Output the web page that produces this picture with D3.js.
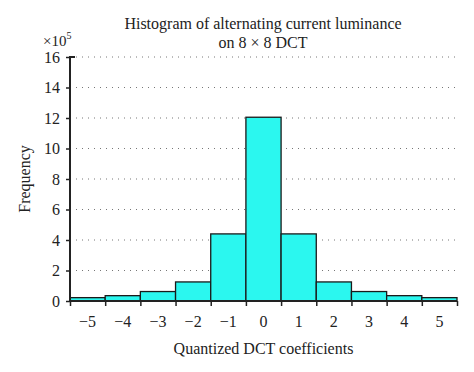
<!DOCTYPE html>
<html>
<head>
<meta charset="utf-8">
<script src="https://cdn.jsdelivr.net/npm/d3@7"></script>
<style>
	body { margin: 0; background: #fff; }
	svg text { font-family: "Liberation Serif", "DejaVu Serif", serif; fill: #222; }
</style>
</head>
<body>
<svg id="chart" width="474" height="372"></svg>
<script>
// histogram of quantized DCT coefficients (x 10^5)
var coefficients = [-5, -4, -3, -2, -1, 0, 1, 2, 3, 4, 5];
var frequency = [0.22, 0.35, 0.62, 1.25, 4.4, 12.05, 4.4, 1.25, 0.62, 0.35, 0.22];
var yTicks = [0, 2, 4, 6, 8, 10, 12, 14, 16];

var svg = d3.select('#chart');
var margin = {left: 70, right: 17, top: 57, bottom: 71};
var width = 474 - margin.left - margin.right,
	height = 372 - margin.top - margin.bottom;

var g = svg.append('g')
	.attr('transform', 'translate(' + margin.left + ',' + margin.top + ')');

var x = d3.scaleLinear().domain([-5.5, 5.5]).range([0, width]);
var y = d3.scaleLinear().domain([0, 16]).range([height, 0]);

// dotted grid
g.selectAll('line.grid')
	.data(yTicks.filter(function (d) { return d > 0; }))
	.enter().append('line')
	.attr('class', 'grid')
	.attr('x1', 6).attr('x2', width)
	.attr('y1', function (d) { return y(d); })
	.attr('y2', function (d) { return y(d); })
	.attr('stroke', '#777')
	.attr('stroke-width', 1)
	.attr('stroke-dasharray', '1,5');

// bars
g.selectAll('rect.bar')
	.data(coefficients)
	.enter().append('rect')
	.attr('class', 'bar')
	.attr('x', function (d) { return x(d - 0.5); })
	.attr('width', function (d) { return x(d + 0.5) - x(d - 0.5); })
	.attr('y', function (d, i) { return y(frequency[i]); })
	.attr('height', function (d, i) { return height - y(frequency[i]); })
	.attr('fill', '#2bf7ef')
	.attr('stroke', '#1a1a1a')
	.attr('stroke-width', 1.3);

// y axis
var yAxis = g.append('g')
	.call(d3.axisLeft(y).tickValues(yTicks).tickSize(4).tickPadding(6));
yAxis.select('.domain').attr('d', 'M0,' + height + 'V0H5');
yAxis.selectAll('line').attr('stroke', '#222').attr('stroke-width', 1.5);
yAxis.select('.domain').attr('stroke', '#222').attr('stroke-width', 2);
yAxis.selectAll('text').style('font-size', '16px');

// x axis: ticks at bin edges, labels at bin centres
var edges = coefficients.map(function (d) { return d - 0.5; }).concat([5.5]);
var xAxis = g.append('g')
	.attr('transform', 'translate(0,' + height + ')')
	.call(d3.axisBottom(x).tickValues(edges).tickSize(5).tickFormat(''));
xAxis.selectAll('line').attr('stroke', '#222').attr('stroke-width', 1.5);
xAxis.select('.domain').attr('d', 'M0,0H' + width).attr('stroke', '#222').attr('stroke-width', 2);

g.append('g').selectAll('text')
	.data(coefficients)
	.enter().append('text')
	.attr('x', function (d) { return x(d); })
	.attr('y', height + 26)
	.attr('text-anchor', 'middle')
	.style('font-size', '16px')
	.text(function (d) { return d < 0 ? '\u2212' + (-d) : d; });

// labels
svg.append('text')
	.attr('x', margin.left + width / 2)
	.attr('y', 354)
	.attr('text-anchor', 'middle')
	.style('font-size', '16px')
	.text('Quantized DCT coefficients');

svg.append('text')
	.attr('transform', 'translate(30,' + (margin.top + height / 2) + ') rotate(-90)')
	.attr('text-anchor', 'middle')
	.style('font-size', '16px')
	.text('Frequency');

svg.append('text')
	.attr('x', 263)
	.attr('y', 29)
	.attr('text-anchor', 'middle')
	.style('font-size', '16px')
	.text('Histogram of alternating current luminance');

svg.append('text')
	.attr('x', 263)
	.attr('y', 48)
	.attr('text-anchor', 'middle')
	.style('font-size', '16px')
	.text('on 8 \u00d7 8 DCT');

var exp = svg.append('text')
	.attr('x', 43)
	.attr('y', 46)
	.style('font-size', '15px');
exp.append('tspan').text('\u00d710');
exp.append('tspan').attr('dy', -7).style('font-size', '10px').text('5');
</script>
</body>
</html>
